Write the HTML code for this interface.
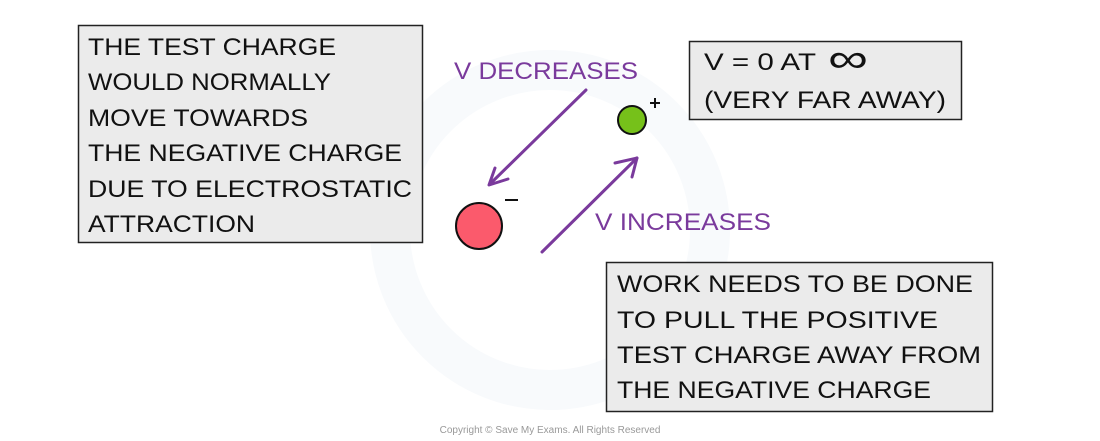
<!DOCTYPE html>
<html><head><meta charset="utf-8"><style>
html,body{margin:0;padding:0;background:#fff;width:1100px;height:441px;overflow:hidden}
svg{display:block}
text{font-family:"Liberation Sans",sans-serif;font-size:24px;fill:#111}
.p{fill:#7a3a9c}
</style></head><body>
<svg width="1100" height="441" viewBox="0 0 1100 441">
<circle cx="550" cy="230" r="160" fill="none" stroke="#f8fafc" stroke-width="40"/>
<rect x="78.5" y="25.5" width="344" height="217" fill="#ebebeb" stroke="#222" stroke-width="1.5"/>
<text x="88" y="55" textLength="248" lengthAdjust="spacingAndGlyphs">THE  TEST  CHARGE</text>
<text x="88" y="90" textLength="243" lengthAdjust="spacingAndGlyphs">WOULD  NORMALLY</text>
<text x="88" y="126" textLength="220" lengthAdjust="spacingAndGlyphs">MOVE  TOWARDS</text>
<text x="88" y="161" textLength="314" lengthAdjust="spacingAndGlyphs">THE  NEGATIVE  CHARGE</text>
<text x="88" y="197" textLength="324" lengthAdjust="spacingAndGlyphs">DUE  TO ELECTROSTATIC</text>
<text x="88" y="232" textLength="167" lengthAdjust="spacingAndGlyphs">ATTRACTION</text>

<rect x="689.5" y="41.5" width="272" height="78" fill="#ebebeb" stroke="#222" stroke-width="1.5"/>
<text x="704" y="70" textLength="112" lengthAdjust="spacingAndGlyphs">V = 0  AT</text>
<text x="828" y="72" style="font-size:40px" textLength="40" lengthAdjust="spacingAndGlyphs">∞</text>
<text x="704" y="108" textLength="242" lengthAdjust="spacingAndGlyphs">(VERY  FAR  AWAY)</text>

<rect x="606.5" y="262.5" width="386" height="149" fill="#ebebeb" stroke="#222" stroke-width="1.5"/>
<text x="617" y="292" textLength="356" lengthAdjust="spacingAndGlyphs">WORK  NEEDS  TO  BE  DONE</text>
<text x="617" y="328" textLength="321" lengthAdjust="spacingAndGlyphs">TO  PULL  THE  POSITIVE</text>
<text x="617" y="363" textLength="364" lengthAdjust="spacingAndGlyphs">TEST  CHARGE  AWAY FROM</text>
<text x="617" y="398" textLength="314" lengthAdjust="spacingAndGlyphs">THE  NEGATIVE  CHARGE</text>

<text class="p" x="454" y="79" textLength="184" lengthAdjust="spacingAndGlyphs">V  DECREASES</text>
<text class="p" x="595" y="230" textLength="176" lengthAdjust="spacingAndGlyphs">V  INCREASES</text>

<g stroke="#7a3a9c" stroke-width="3" fill="none" stroke-linecap="round" stroke-linejoin="round">
<line x1="586" y1="90" x2="490" y2="184"/>
<polyline points="495,168 489,185 508,179"/>
<line x1="542" y1="252" x2="637" y2="158"/>
<polyline points="615,163 637,158 632,177"/>
</g>
<circle cx="479" cy="226" r="23" fill="#fb5a6c" stroke="#111" stroke-width="2"/>
<line x1="505" y1="200" x2="518" y2="200" stroke="#111" stroke-width="2"/>
<circle cx="632" cy="120" r="14" fill="#76c11a" stroke="#111" stroke-width="2"/>
<line x1="650" y1="103" x2="660" y2="103" stroke="#111" stroke-width="2"/>
<line x1="655" y1="98" x2="655" y2="108" stroke="#111" stroke-width="2"/>
<text x="550" y="433" text-anchor="middle" style="font-size:10px;fill:#999">Copyright © Save My Exams. All Rights Reserved</text>
</svg>
</body></html>
